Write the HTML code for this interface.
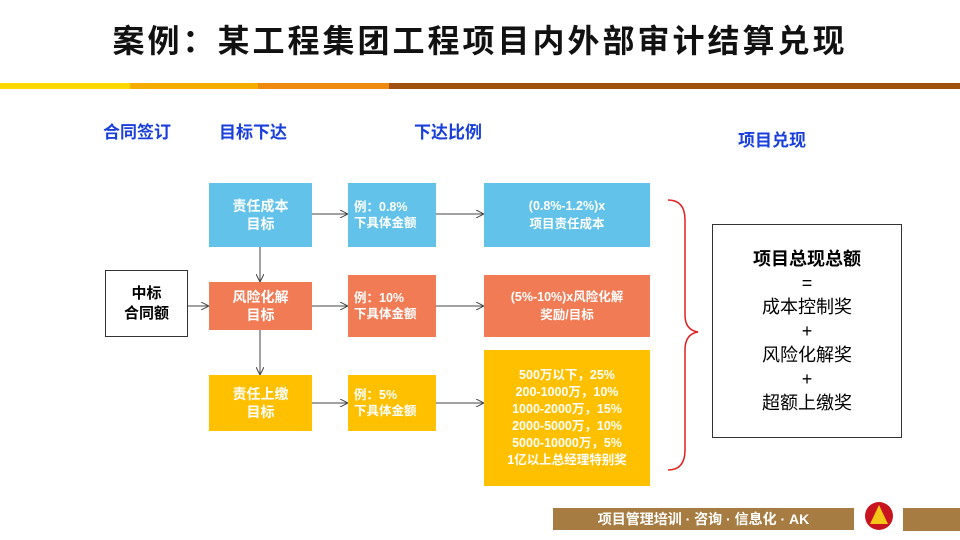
<!DOCTYPE html><html><head><meta charset="utf-8"><style>
body{margin:0;width:960px;height:540px;background:#fff;position:relative;overflow:hidden;font-family:"Liberation Sans","Noto Sans CJK SC",sans-serif}
.a{position:absolute}
.t{left:0;width:960px;top:16px;text-align:center;font-size:32px;font-weight:bold;color:#111;letter-spacing:3px}
.h{font-size:17px;font-weight:bold;color:#1a3fdc}
.b{display:flex;align-items:center;justify-content:center;text-align:center;color:#fff;font-weight:bold;font-size:14px;line-height:18px}
.s{font-size:12.5px;line-height:16px;justify-content:flex-start;text-align:left;padding-left:6px;box-sizing:border-box}
.bl{background:#62c2ea}.or{background:#f07b55}.ye{background:#ffc000}
</style></head><body>
<div class="a t">案例：某工程集团工程项目内外部审计结算兑现</div>
<div class="a" style="top:83px;left:0;width:130px;height:6px;background:#ffd800"></div>
<div class="a" style="top:83px;left:130px;width:128px;height:6px;background:#f5ad00"></div>
<div class="a" style="top:83px;left:258px;width:131px;height:6px;background:#ee8a10"></div>
<div class="a" style="top:83px;left:389px;width:571px;height:6px;background:#a0500e"></div>
<div class="a h" style="left:103px;top:118px">合同签订</div>
<div class="a h" style="left:219px;top:118px">目标下达</div>
<div class="a h" style="left:414px;top:118px">下达比例</div>
<div class="a h" style="left:738px;top:126px">项目兑现</div>
<svg class="a" style="left:0;top:0" width="960" height="540"><defs><marker id="m" markerWidth="8" markerHeight="8" refX="7" refY="4" orient="auto"><path d="M0,0L8,4L0,8" fill="none" stroke="#444" stroke-width="1"/></marker></defs>
<g stroke="#444" stroke-width="1" fill="none">
<line x1="188" y1="306" x2="208" y2="306" marker-end="url(#m)"/>
<line x1="260" y1="247" x2="260" y2="281" marker-end="url(#m)"/>
<line x1="260" y1="330" x2="260" y2="374" marker-end="url(#m)"/>
<line x1="312" y1="214" x2="347" y2="214" marker-end="url(#m)"/>
<line x1="312" y1="306" x2="347" y2="306" marker-end="url(#m)"/>
<line x1="312" y1="403" x2="347" y2="403" marker-end="url(#m)"/>
<line x1="436" y1="214" x2="483" y2="214" marker-end="url(#m)"/>
<line x1="436" y1="306" x2="483" y2="306" marker-end="url(#m)"/>
<line x1="436" y1="403" x2="483" y2="403" marker-end="url(#m)"/>
</g>
<path d="M668,200 Q685,200 685,220 L685,315 Q685,330 698,332 Q685,334 685,350 L685,450 Q685,470 668,470" stroke="#e02020" stroke-width="1.5" fill="none"/>
<circle cx="879" cy="516" r="14" fill="#c8141e"/><path d="M879,505 L870,524 L888,524Z" fill="#f5c518"/>
</svg>
<div class="a b" style="left:105px;top:270px;width:81px;height:65px;border:1px solid #333;background:#fff;color:#000;font-size:15px;line-height:20px">中标<br>合同额</div>
<div class="a b bl" style="left:209px;top:183px;width:103px;height:64px">责任成本<br>目标</div>
<div class="a b or" style="left:209px;top:282px;width:103px;height:48px">风险化解<br>目标</div>
<div class="a b ye" style="left:209px;top:375px;width:103px;height:56px">责任上缴<br>目标</div>
<div class="a b s bl" style="left:348px;top:183px;width:88px;height:64px">例：0.8%<br>下具体金额</div>
<div class="a b s or" style="left:348px;top:275px;width:88px;height:62px">例：10%<br>下具体金额</div>
<div class="a b s ye" style="left:348px;top:375px;width:88px;height:56px">例：5%<br>下具体金额</div>
<div class="a b bl" style="left:484px;top:183px;width:166px;height:64px;font-size:12.5px">(0.8%-1.2%)x<br>项目责任成本</div>
<div class="a b or" style="left:484px;top:275px;width:166px;height:62px;font-size:12.5px">(5%-10%)x风险化解<br>奖励/目标</div>
<div class="a b ye" style="left:484px;top:350px;width:166px;height:136px;font-size:12.5px;line-height:17px">500万以下，25%<br>200-1000万，10%<br>1000-2000万，15%<br>2000-5000万，10%<br>5000-10000万，5%<br>1亿以上总经理特别奖</div>
<div class="a b" style="left:712px;top:224px;width:188px;height:212px;border:1px solid #333;color:#000;font-weight:normal;font-size:18px;line-height:24px"><div><b>项目总现总额</b><br>=<br>成本控制奖<br>+<br>风险化解奖<br>+<br>超额上缴奖</div></div>
<div class="a b" style="left:553px;top:508px;width:301px;height:22px;background:#a77c42;font-size:14px">项目管理培训 · 咨询 · 信息化 · AK</div>
<div class="a" style="left:903px;top:508px;width:57px;height:23px;background:#a77c42"></div>
</body></html>
